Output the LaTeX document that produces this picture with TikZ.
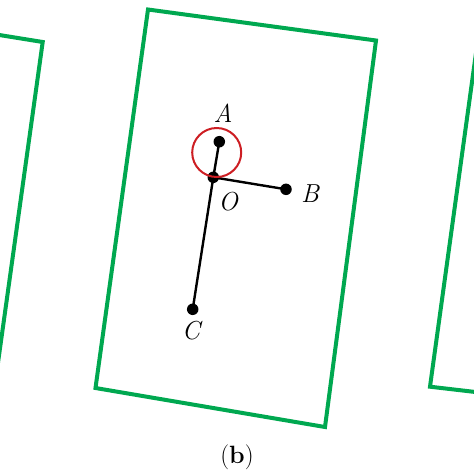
\documentclass[tikz,border=0pt]{standalone}
\usepackage{fontspec}
\setmainfont{Latin Modern Roman}
\definecolor{fgreen}{RGB}{0,168,80}
\definecolor{cred}{RGB}{205,30,35}
\begin{document}
\begin{tikzpicture}[x=1pt,y=-1pt,
  frame/.style={draw=fgreen,line width=4pt,line join=miter},
  seg/.style={draw=black,line width=2.4pt},
  dot/.style={circle,fill=black,inner sep=0pt,minimum size=11.5pt},
  lab/.style={font=\fontsize{26}{30}\selectfont\itshape,inner sep=0pt}]
\useasboundingbox (0,0) rectangle (474,474);
\clip (0,0) rectangle (474,474);
% frames
\draw[frame] (148,9.5) -- (376,40.5) -- (325,427) -- (95.5,388) -- cycle;
\draw[frame] (-10,33.5) -- (42.7,42) -- (-10,420);
\draw[frame] (480,24) -- (430,386.7) -- (484,393);
% points
\node[dot] (A) at (219.3,141.7) {};
\node[dot] (O) at (213.3,177.3) {};
\node[dot] (B) at (286,189.3) {};
\node[dot] (C) at (192.7,309.3) {};
\draw[seg] (O.center) -- (A.center);
\draw[seg] (O.center) -- (B.center);
\draw[seg] (O.center) -- (C.center);
\node[draw=cred,line width=2pt,circle,minimum size=49pt,inner sep=0pt] (R) at (216.7,152.5) {};
% labels
\node[lab] (lA) at (223,113) {A};
\node[lab] (lB) at (310,194) {B};
\node[lab] (lO) at (228,202) {O};
\node[lab] (lC) at (191,331) {C};
\node[font=\fontsize{25}{29}\selectfont,inner sep=0pt] (cap) at (237,457) {(\textbf{b})};
\end{tikzpicture}
\end{document}
